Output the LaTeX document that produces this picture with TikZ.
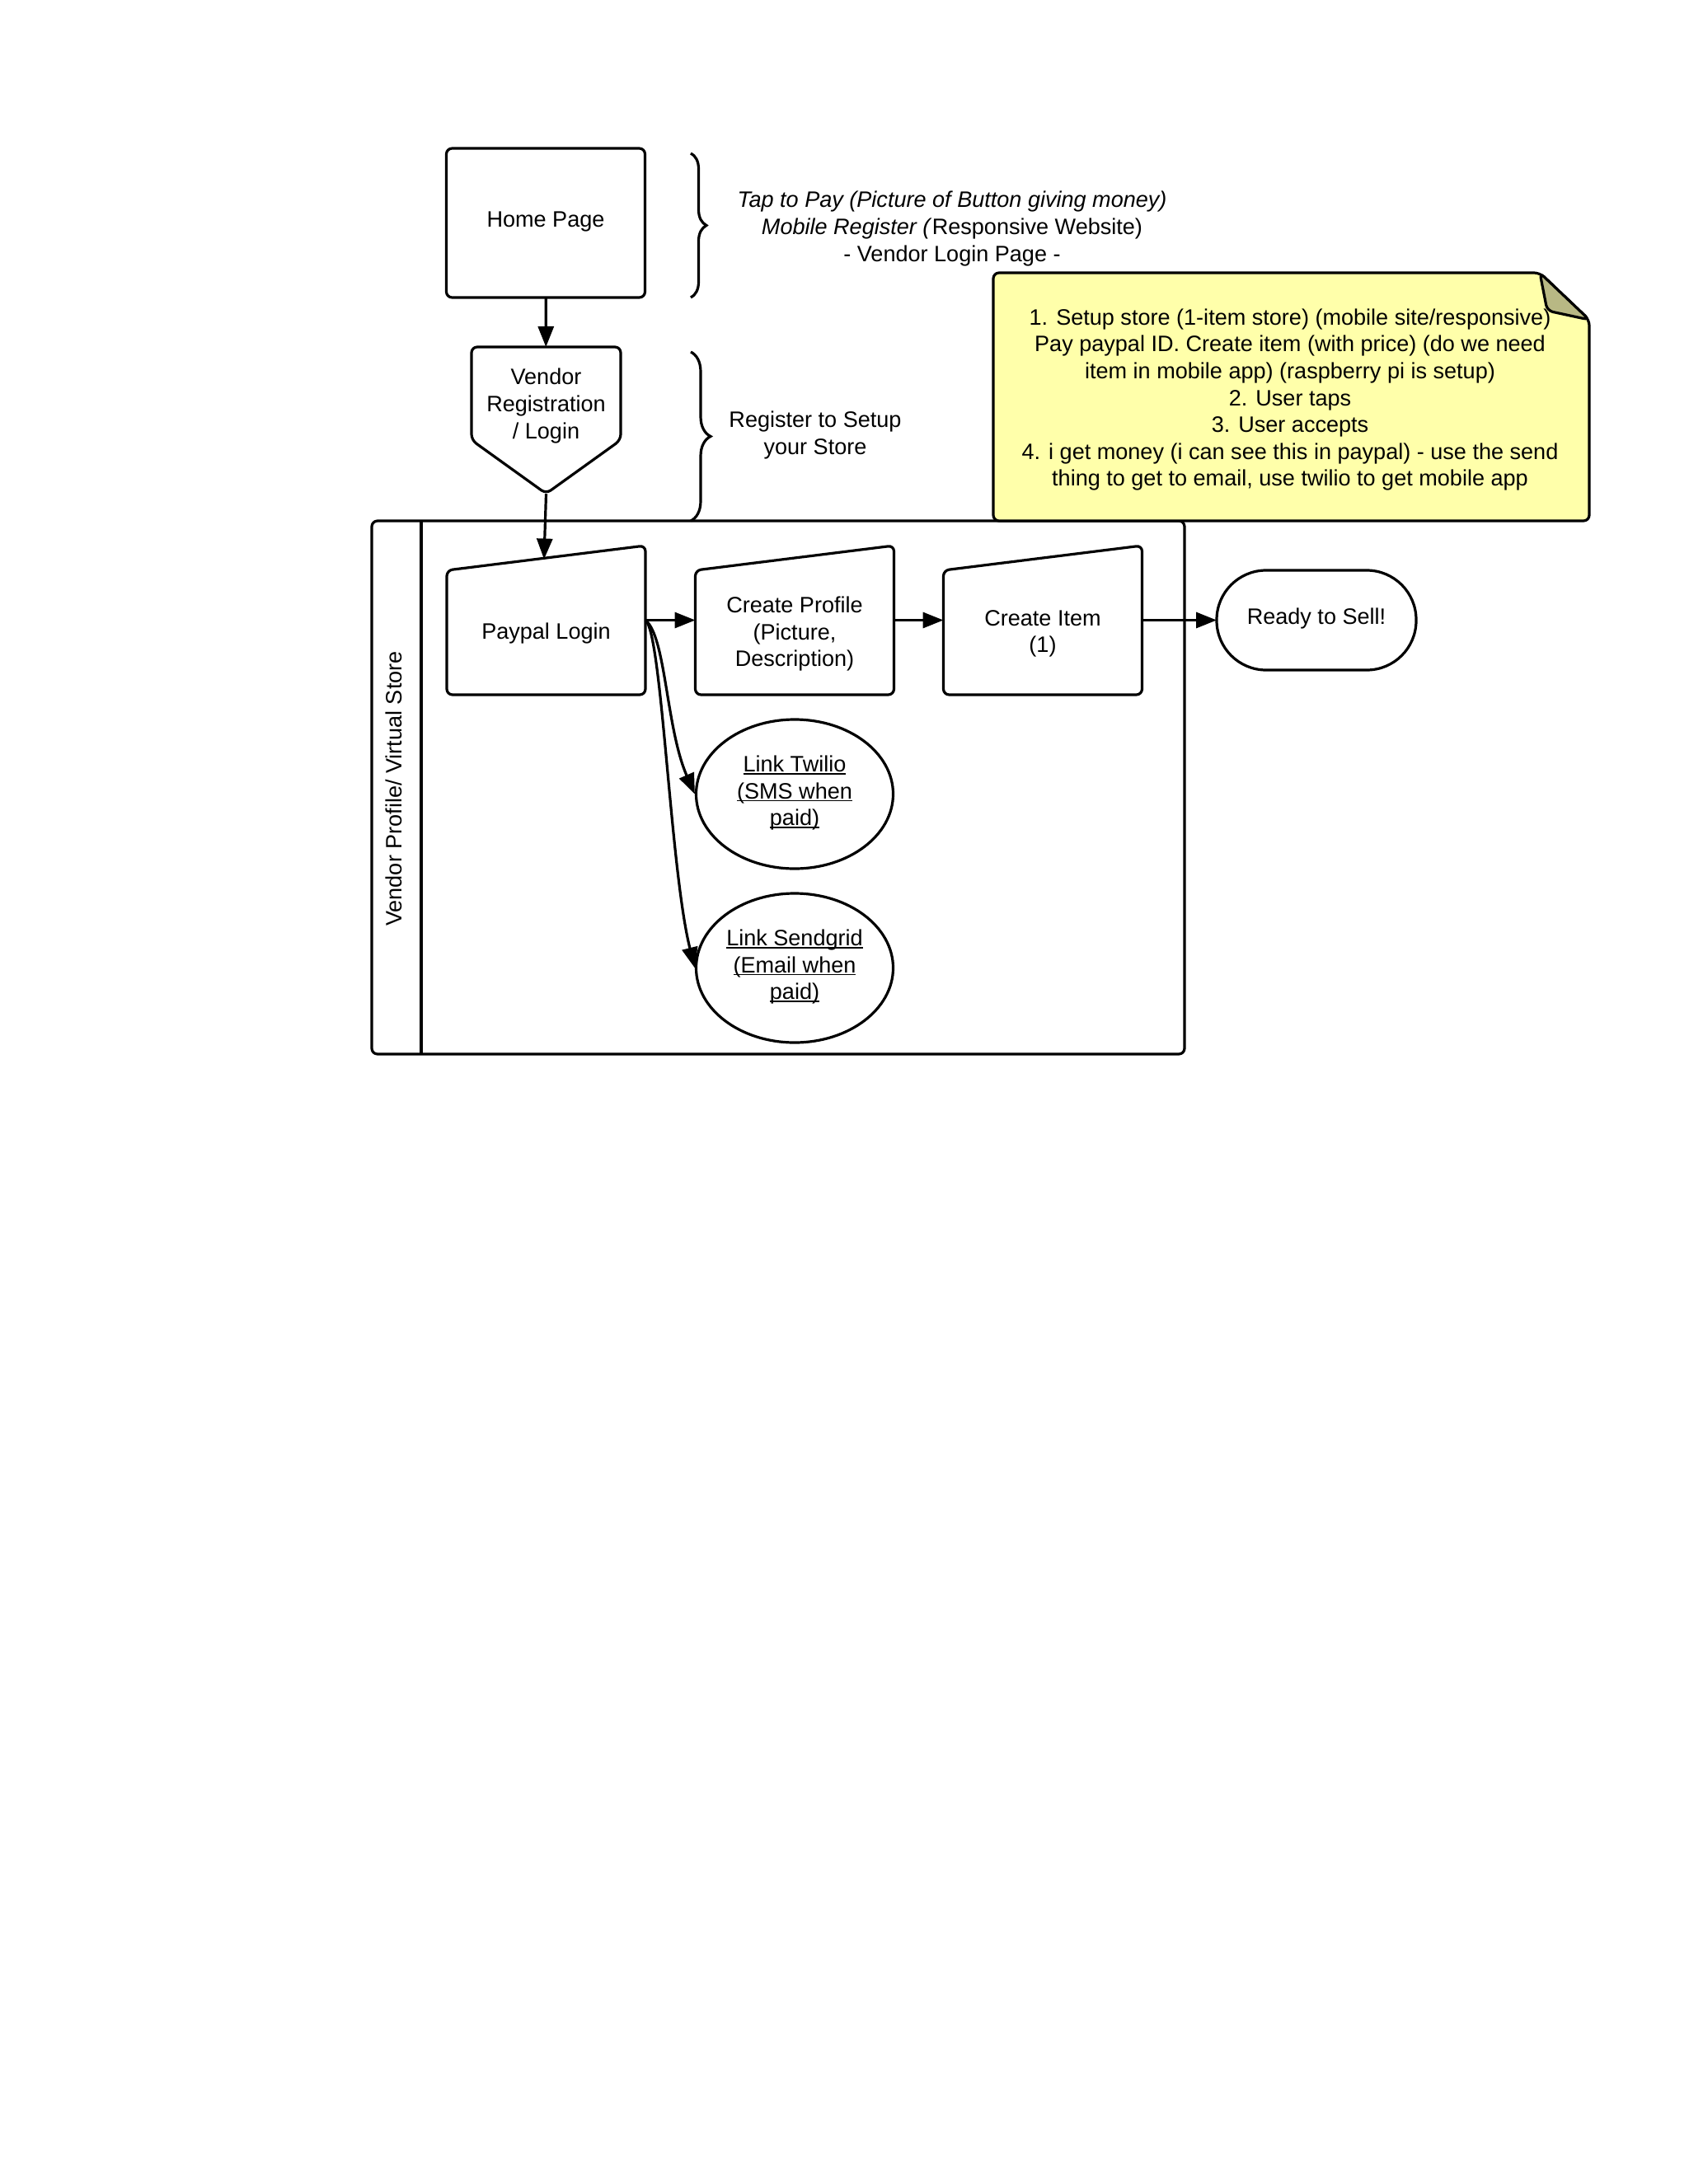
\documentclass[tikz,border=0pt]{standalone}
\usepackage{fontspec}
\setmainfont{Liberation Sans}
\usetikzlibrary{shapes,arrows.meta,calc,decorations.pathreplacing}
\definecolor{notefill}{HTML}{FFFFAA}
\definecolor{foldfill}{HTML}{B8B884}
\newcommand{\linkline}[1]{\setbox0\hbox{#1}\rule[-1.9pt]{\wd0}{0.9pt}\llap{#1}}
\tikzset{
    boxline/.style={line width=0.064cm, black},
    txt/.style={align=center, font=\fontsize{15.4}{18.5}\selectfont, inner sep=0pt},
    frame/.style={minimum width=#1, inner sep=0pt, outer sep=0pt},
    flow/.style={boxline, -{Triangle[length=0.5cm,width=0.38cm]}},
    linkoval/.style={ellipse, draw, boxline, minimum width=4.78cm, minimum height=3.62cm},
    inputbox/.style={frame=4.82cm, minimum height=3.62cm},
    bracket/.style={boxline, decorate, decoration={brace, amplitude=#1}},
}
\begin{document}
\begin{tikzpicture}
    \useasboundingbox (0,0) rectangle (40.96,-53);

    % Home and registration
    \node[frame=4.82cm, minimum height=3.62cm, draw, boxline, rounded corners=0.14cm, label={[txt,yshift=0.03cm]center:Home Page}] (home) at (13.24,-5.41) {};
    \node[frame=3.62cm, minimum height=3.56cm, label={[txt,yshift=0.35cm]center:Vendor\\Registration\\/ Login}] (vendor) at (13.25,-10.2) {};
    \draw[boxline, rounded corners=0.14cm] (vendor.north west) -- ($(vendor.south west)+(0,1.3)$) -- (vendor.south) -- ($(vendor.south east)+(0,1.3)$) -- (vendor.north east) -- cycle;

    % Braces
    \draw[bracket=0.38cm] (16.76,-3.72) -- (16.76,-7.22);
    \draw[bracket=0.48cm] (16.76,-8.54) -- (16.76,-12.64);
    \node[txt] (tapnote) at (23.1,-5.55) {\textit{Tap to Pay (Picture of Button giving money)}\\\textit{Mobile Register (}Responsive Website)\\- Vendor Login Page -};
    \node[txt] (registernote) at (19.78,-10.56) {Register to Setup\\your Store};

    % Vendor store container
    \node[frame=19.72cm, minimum height=12.94cm, draw, boxline, rounded corners=0.14cm] (store) at (18.88,-19.11) {};
    \draw[boxline] (store.north west -| 10.22,0) coordinate (sepa) -- (store.south west -| 10.22,0) coordinate (sepb);
    \node[txt, rotate=90] (storelabel) at (9.55,-19.14) {Vendor Profile/ Virtual Store};

    % Slanted input boxes
    \node[inputbox, label={[txt,yshift=-0.31cm]center:Paypal Login}] (paypal) at (13.25,-15.05) {};
    \node[inputbox, label={[txt,yshift=-0.33cm]center:Create Profile\\(Picture,\\Description)}] (profile) at (19.28,-15.05) {};
    \node[inputbox, label={[txt,yshift=-0.33cm]center:Create Item\\(1)}] (item) at (25.3,-15.05) {};
    \foreach \n in {paypal,profile,item}
        \draw[boxline, rounded corners=0.14cm] (\n.south west) -- ($(\n.north west)+(0,-0.6)$) -- (\n.north east) -- (\n.south east) -- cycle;
    \coordinate (paypaltop) at ($(paypal.north)+(-0.05,-0.33)$);

    \node[frame=4.84cm, minimum height=2.42cm, draw, boxline, rounded corners=1.2cm, label={[txt,yshift=0.05cm]center:Ready to Sell!}] (ready) at (31.94,-15.05) {};
    \node[linkoval, label={[txt,yshift=0.03cm]center:\linkline{Link Twilio}\\\linkline{(SMS when}\\\linkline{paid)}}] (twilio) at (19.28,-19.27) {};
    \node[linkoval, label={[txt,yshift=0.03cm]center:\linkline{Link Sendgrid}\\\linkline{(Email when}\\\linkline{paid)}}] (sendgrid) at (19.28,-23.49) {};

    % Connectors
    \draw[flow] (home) -- (vendor);
    \draw[flow] (vendor.south) -- (paypaltop);
    \draw[flow] (paypal.east) -- (profile.west);
    \draw[flow] (profile.east) -- (item.west);
    \draw[flow] (item.east) -- (ready.west);
    \draw[flow] (paypal.east) .. controls +(0.5,-0.4) and +(-0.7,1.6) .. (twilio.west);
    \draw[flow] (paypal.east) .. controls +(0.4,-0.3) and +(-0.6,2.4) .. (sendgrid.west);

    % Note with folded corner
    \node[frame=14.46cm, minimum height=6.02cm] (note) at (31.33,-9.63) {};
    \draw[boxline, fill=notefill, rounded corners=0.14cm] (note.north west) -- ($(note.north east)+(-1.2,0)$) -- ($(note.north east)+(0,-1.14)$) -- (note.south east) -- (note.south west) -- cycle;
    \draw[boxline, fill=foldfill, rounded corners=0.14cm] ($(note.north east)+(-1.2,0)$) -- ($(note.north east)+(-1.02,-0.92)$) -- ($(note.north east)+(0,-1.14)$) -- cycle;
    \node[txt] (notetext) at (31.3,-9.7) {1. Setup store (1-item store) (mobile site/responsive)\\Pay paypal ID. Create item (with price) (do we need\\item in mobile app) (raspberry pi is setup)\\2. User taps\\3. User accepts\\4. i get money (i can see this in paypal) - use the send\\thing to get to email, use twilio to get mobile app};
\end{tikzpicture}
\end{document}
